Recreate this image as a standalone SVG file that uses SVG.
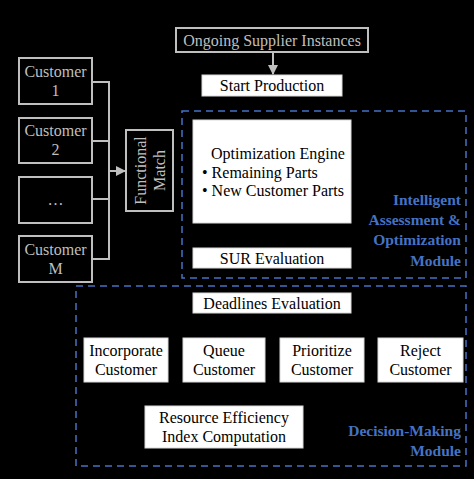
<svg xmlns="http://www.w3.org/2000/svg" width="474" height="479" viewBox="0 0 474 479">
<defs>
<style>
.bg{fill:#000}
.wbox{fill:#fff;stroke:#d9d9d9;stroke-width:1}
.gbox{fill:#000;stroke:#bfbfbf;stroke-width:2}
.t{font-family:"Liberation Serif","Times New Roman",serif;font-size:16px;fill:#000;text-anchor:middle}
.g{fill:#bfbfbf}
.blue{font-family:"Liberation Serif","Times New Roman",serif;font-size:15.5px;font-weight:bold;fill:#4472c4;text-anchor:end}
.dash{fill:none;stroke:#4472c4;stroke-width:1.5;stroke-dasharray:7,5}
.conn{fill:none;stroke:#bfbfbf;stroke-width:2}
</style>
<marker id="ah" viewBox="0 0 10 10" refX="9" refY="5" markerWidth="5" markerHeight="5" orient="auto" markerUnits="strokeWidth">
<path d="M0,0 L10,5 L0,10 z" fill="#bfbfbf"/>
</marker>
</defs>
<rect class="bg" x="0" y="0" width="474" height="479"/>
<g id="modules">
<rect class="dash" x="182" y="111" width="284" height="167"/>
<rect class="dash" x="76" y="286" width="390" height="180"/>
</g>
<g id="connectors">
<path class="conn" d="M273,52 L273,74" marker-end="url(#ah)"/>
<path class="conn" d="M92,82 H109 M92,141 H109 M92,199 H109 M92,259 H109 M109,81 V260"/>
<path class="conn" d="M109,171 H125" marker-end="url(#ah)"/>
</g>
<g id="ongoing">
<rect class="gbox" x="176" y="28" width="192" height="24"/>
<text class="t g" x="272" y="45.5">Ongoing Supplier Instances</text>
</g>
<g id="start">
<rect class="wbox" x="202" y="75" width="140" height="21"/>
<text class="t" x="272" y="91">Start Production</text>
</g>
<g id="c1">
<rect class="gbox" x="19" y="58" width="73" height="46"/>
<text class="t g" x="55.5" y="77">Customer</text>
<text class="t g" x="55.5" y="96">1</text>
</g>
<g id="c2">
<rect class="gbox" x="19" y="118" width="73" height="45"/>
<text class="t g" x="55.5" y="136">Customer</text>
<text class="t g" x="55.5" y="155">2</text>
</g>
<g id="c3">
<rect class="gbox" x="19" y="177" width="73" height="46"/>
<text class="t g" x="55.5" y="205">…</text>
</g>
<g id="cm">
<rect class="gbox" x="19" y="236" width="73" height="46"/>
<text class="t g" x="55.5" y="255">Customer</text>
<text class="t g" x="55.5" y="274">M</text>
</g>
<g id="fmatch">
<rect class="gbox" x="126" y="130" width="47" height="81"/>
<text class="t g" transform="translate(149.5,170.5) rotate(-90)" x="0" y="-4">Functional</text>
<text class="t g" transform="translate(149.5,170.5) rotate(-90)" x="0" y="15">Match</text>
</g>
<g id="opt">
<rect class="wbox" x="193" y="120" width="158" height="103"/>
<text class="t" x="211" y="159" style="text-anchor:start">Optimization Engine</text>
<text class="t" x="202" y="178" style="text-anchor:start">• Remaining Parts</text>
<text class="t" x="202" y="196" style="text-anchor:start">• New Customer Parts</text>
</g>
<g id="sur">
<rect class="wbox" x="193" y="248" width="158" height="20"/>
<text class="t" x="272" y="263.5">SUR Evaluation</text>
</g>
<g id="ialabel">
<text class="blue" x="461" y="205">Intelligent</text>
<text class="blue" x="461" y="225">Assessment &amp;</text>
<text class="blue" x="461" y="245">Optimization</text>
<text class="blue" x="461" y="266">Module</text>
</g>
<g id="deadline">
<rect class="wbox" x="193" y="293" width="158" height="20"/>
<text class="t" x="272" y="308.5">Deadlines Evaluation</text>
</g>
<g id="incorp">
<rect class="wbox" x="84" y="338" width="84" height="44"/>
<text class="t" x="126" y="356">Incorporate</text>
<text class="t" x="126" y="375">Customer</text>
</g>
<g id="queue">
<rect class="wbox" x="183" y="338" width="82" height="44"/>
<text class="t" x="224" y="356">Queue</text>
<text class="t" x="224" y="375">Customer</text>
</g>
<g id="prio">
<rect class="wbox" x="280" y="338" width="84" height="44"/>
<text class="t" x="322" y="356">Prioritize</text>
<text class="t" x="322" y="375">Customer</text>
</g>
<g id="reject">
<rect class="wbox" x="378" y="338" width="85" height="44"/>
<text class="t" x="420.5" y="356">Reject</text>
<text class="t" x="420.5" y="375">Customer</text>
</g>
<g id="rei">
<rect class="wbox" x="145" y="406" width="158" height="42"/>
<text class="t" x="224" y="423">Resource Efficiency</text>
<text class="t" x="224" y="442">Index Computation</text>
</g>
<g id="dmlabel">
<text class="blue" x="461" y="436">Decision-Making</text>
<text class="blue" x="461" y="456">Module</text>
</g>
</svg>
